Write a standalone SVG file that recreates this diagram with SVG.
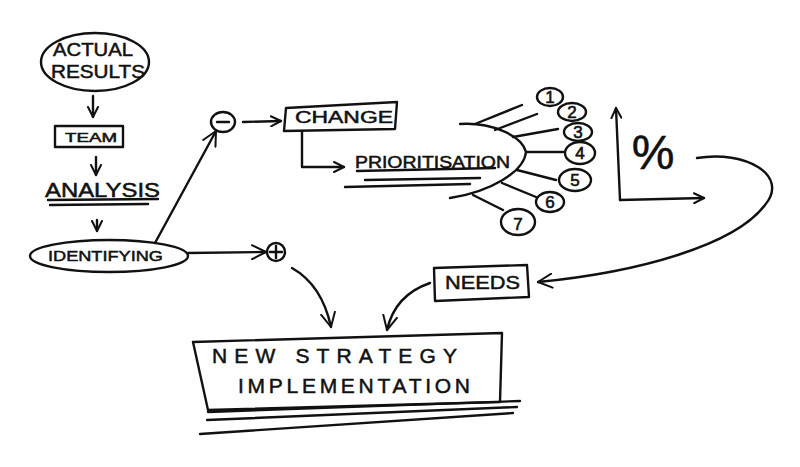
<svg xmlns="http://www.w3.org/2000/svg" width="800" height="467" viewBox="0 0 800 467">
<defs>
<style>
.s{fill:none;stroke:#111;stroke-width:2.4;stroke-linecap:round;stroke-linejoin:round}
.t{font-family:"Liberation Sans","DejaVu Sans",sans-serif;fill:#111;stroke:#111;stroke-width:0.5}
.n{font-family:"Liberation Sans","DejaVu Sans",sans-serif;fill:#111;stroke:#111;stroke-width:0.6;font-size:17px;text-anchor:middle}
</style>
<marker id="ah" viewBox="0 0 12 12" refX="11" refY="6" markerWidth="12" markerHeight="12" markerUnits="userSpaceOnUse" orient="auto">
<path d="M1,1 L11,6 L1,11" fill="none" stroke="#111" stroke-width="2" stroke-linecap="round" stroke-linejoin="round"/>
</marker>
<marker id="ahL" viewBox="0 0 16 16" refX="15" refY="8" markerWidth="16" markerHeight="16" markerUnits="userSpaceOnUse" orient="auto">
<path d="M1,1 L15,8 L1,15" fill="none" stroke="#111" stroke-width="2" stroke-linecap="round" stroke-linejoin="round"/>
</marker>
</defs>
<rect width="800" height="467" fill="#fff"/>

<g id="connectors">
<path class="s" d="M93,96 L93,117" marker-end="url(#ah)"/>
<path class="s" d="M96,157 L96,175" marker-end="url(#ah)"/>
<path class="s" d="M97,220 L97,231" marker-end="url(#ah)"/>
<path class="s" d="M155,243 L216,131" marker-end="url(#ahL)"/>
<path class="s" d="M188,253 L266,252" marker-end="url(#ahL)"/>
<path class="s" d="M243,122 L281,121" marker-end="url(#ah)"/>
<path class="s" d="M302,132 L302,167 L344,167" marker-end="url(#ah)"/>
<path class="s" d="M292,268 Q322,285 331,327" marker-end="url(#ahL)"/>
<path class="s" d="M430,283 Q395,295 387,330" marker-end="url(#ahL)"/>
<path class="s" d="M697,158 C745,150 790,175 765,205 C735,245 640,272 538,282" marker-end="url(#ahL)"/>
</g>

<g id="actual-results">
<ellipse class="s" cx="95" cy="62" rx="54" ry="29"/>
<text class="t" x="53" y="56" font-size="18" textLength="80" lengthAdjust="spacingAndGlyphs">ACTUAL</text>
<text class="t" x="51" y="78" font-size="18" textLength="94" lengthAdjust="spacingAndGlyphs">RESULTS</text>
</g>

<g id="team">
<rect class="s" x="55" y="126" width="68" height="21"/>
<text class="t" x="65" y="142" font-size="12" textLength="52" lengthAdjust="spacingAndGlyphs">TEAM</text>
</g>

<g id="analysis">
<text class="t" x="45" y="197" font-size="20" textLength="115" lengthAdjust="spacingAndGlyphs">ANALYSIS</text>
<path class="s" d="M48,200 L158,199 M50,205 L148,204"/>
</g>

<g id="identifying">
<ellipse class="s" cx="109" cy="256" rx="79" ry="16"/>
<text class="t" x="48" y="261" font-size="15" textLength="115" lengthAdjust="spacingAndGlyphs">IDENTIFYING</text>
</g>

<g id="minus">
<ellipse class="s" cx="223" cy="122" rx="12" ry="10"/>
<path class="s" d="M217,122 L229,122"/>
</g>

<g id="plus">
<circle class="s" cx="276" cy="252" r="9"/>
<path class="s" d="M276,246 L276,258 M270,252 L282,252"/>
</g>

<g id="change">
<path class="s" d="M286,108 L397,102 L395,129 L284,131 Z"/>
<text class="t" x="295" y="123" font-size="17" textLength="98" lengthAdjust="spacingAndGlyphs">CHANGE</text>
</g>

<g id="prioritisation">
<text class="t" x="355" y="168" font-size="16" textLength="155" lengthAdjust="spacingAndGlyphs">PRIORITISATION</text>
<path class="s" d="M357,171 L495,168 M365,180 L480,178 M345,187 L470,184"/>
<path class="s" d="M460,124 C490,122 522,135 526,152 C524,172 490,192 450,198"/>
<path class="s" d="M475,124 L522,105 M495,130 L537,114 M513,137 L558,129 M526,152 L563,152 M517,170 L556,180 M502,183 L536,197 M473,195 L503,210"/>
</g>

<g id="n1"><ellipse class="s" cx="550" cy="97" rx="13" ry="9"/><text class="n" x="550" y="103" font-size="15">1</text></g>
<g id="n2"><ellipse class="s" cx="572" cy="112" rx="14" ry="9"/><text class="n" x="572" y="118" font-size="15">2</text></g>
<g id="n3"><ellipse class="s" cx="578" cy="132" rx="14" ry="9"/><text class="n" x="578" y="138" font-size="15">3</text></g>
<g id="n4"><ellipse class="s" cx="580" cy="153" rx="15" ry="11"/><text class="n" x="580" y="159">4</text></g>
<g id="n5"><ellipse class="s" cx="575" cy="180" rx="16" ry="11"/><text class="n" x="575" y="186">5</text></g>
<g id="n6"><ellipse class="s" cx="550" cy="202" rx="14" ry="10"/><text class="n" x="550" y="208">6</text></g>
<g id="n7"><ellipse class="s" cx="518" cy="222" rx="17" ry="13"/><text class="n" x="518" y="230" font-size="21">7</text></g>

<g id="percent-chart">
<path class="s" d="M620,200 L616,108" marker-end="url(#ah)"/>
<path class="s" d="M620,200 L704,198" marker-end="url(#ah)"/>
<text class="t" x="653" y="169" font-size="48" text-anchor="middle" stroke-width="0.3">%</text>
</g>

<g id="needs">
<path class="s" d="M434,268 L527,265 L529,297 L435,301 Z"/>
<text class="t" x="445" y="289" font-size="19" textLength="75" lengthAdjust="spacingAndGlyphs">NEEDS</text>
</g>

<g id="new-strategy">
<path class="s" d="M193,342 L502,333 L500,402 L208,410 Z"/>
<text class="t" x="212" y="363" font-size="21" textLength="245" lengthAdjust="spacing">NEW STRATEGY</text>
<text class="t" x="238" y="393" font-size="21" textLength="232" lengthAdjust="spacing">IMPLEMENTATION</text>
<path class="s" d="M208,412 L520,401 M207,420 L517,407 M200,434 L513,413"/>
</g>
</svg>
